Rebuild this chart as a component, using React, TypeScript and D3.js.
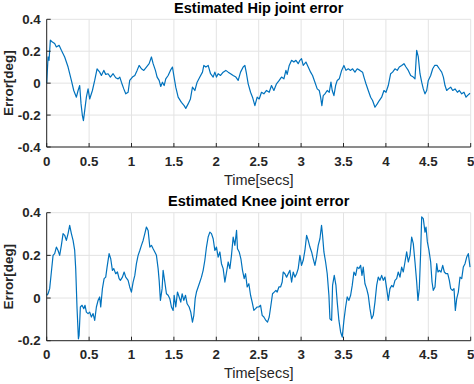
import React from "react";
import * as d3 from "d3";

const xTicks = [0, 0.5, 1, 1.5, 2, 2.5, 3, 3.5, 4, 4.5, 5];
const hipYTicks = [-0.4, -0.2, 0, 0.2, 0.4];
const kneeYTicks = [-0.2, 0, 0.2, 0.4];
const titles = ["Estimated Hip joint error", "Estimated Knee joint error"];
const xLabel = "Time[secs]";
const yLabel = "Error[deg]";

const hipSamples: [number, number][] = [
  [0, 0], [0.016, 0.164], [0.028, 0.143], [0.043, 0.269], [0.067, 0.258], [0.094, 0.248],
  [0.114, 0.227], [0.146, 0.237], [0.173, 0.206], [0.212, 0.164], [0.252, 0.101], [0.291, 0.017],
  [0.319, -0.046], [0.35, -0.088], [0.37, -0.046], [0.389, -0.015], [0.405, -0.13], [0.421, -0.204],
  [0.433, -0.235], [0.448, -0.172], [0.468, -0.088], [0.488, -0.036], [0.507, -0.099], [0.539, -0.046],
  [0.566, 0.017], [0.594, 0.09], [0.625, 0.069], [0.645, 0.048], [0.673, 0.08], [0.696, 0.055],
  [0.724, 0.059], [0.751, 0.038], [0.783, 0.059], [0.814, 0.034], [0.842, 0.027], [0.862, 0.038],
  [0.881, 0.006], [0.909, -0.036], [0.932, -0.067], [0.96, -0.057], [0.979, 0.017], [1.011, 0.038],
  [1.039, 0.048], [1.066, 0.08], [1.09, 0.111], [1.117, 0.09], [1.145, 0.08], [1.176, 0.101],
  [1.208, 0.122], [1.235, 0.164], [1.255, 0.122], [1.282, 0.08], [1.302, 0.038], [1.326, 0.017],
  [1.345, -0.021], [1.365, 0.006], [1.385, -0.015], [1.404, 0.027], [1.432, 0.048], [1.459, 0.08],
  [1.483, 0.101], [1.499, 0.048], [1.522, -0.025], [1.55, -0.088], [1.589, -0.12], [1.621, -0.141],
  [1.64, -0.158], [1.668, -0.13], [1.695, -0.099], [1.719, -0.025], [1.747, -0.046], [1.774, 0.006],
  [1.806, 0.038], [1.837, 0.069], [1.853, 0.111], [1.877, 0.101], [1.904, 0.111], [1.932, 0.059],
  [1.963, 0.038], [1.983, 0.069], [2.002, 0.038], [2.022, 0.059], [2.05, 0.048], [2.081, 0.069],
  [2.112, 0.08], [2.14, 0.069], [2.168, 0.059], [2.199, 0.048], [2.231, 0.038], [2.258, 0.017],
  [2.286, 0.069], [2.317, 0.101], [2.337, 0.111], [2.356, 0.059], [2.376, -0.004], [2.404, -0.057],
  [2.427, -0.088], [2.455, -0.141], [2.482, -0.088], [2.506, -0.099], [2.533, -0.057], [2.561, -0.067],
  [2.592, -0.046], [2.624, -0.057], [2.651, -0.015], [2.679, -0.046], [2.71, -0.004], [2.742, 0.017],
  [2.769, 0.038], [2.797, 0.027], [2.821, 0.08], [2.836, 0.055], [2.86, 0.111], [2.888, 0.143],
  [2.915, 0.132], [2.939, 0.143], [2.966, 0.122], [2.986, 0.143], [3.005, 0.153], [3.025, 0.111],
  [3.057, 0.132], [3.084, 0.101], [3.112, 0.069], [3.135, 0.048], [3.163, 0.006], [3.19, -0.036],
  [3.214, -0.046], [3.23, -0.088], [3.245, -0.141], [3.261, -0.078], [3.281, -0.067], [3.308, -0.046],
  [3.332, -0.057], [3.352, 0.006], [3.367, -0.046], [3.387, -0.078], [3.407, -0.015], [3.426, 0.017],
  [3.45, 0.027], [3.478, 0.08], [3.505, 0.111], [3.529, 0.08], [3.556, 0.09], [3.584, 0.08],
  [3.607, 0.09], [3.635, 0.069], [3.662, 0.09], [3.694, 0.08], [3.725, 0.069], [3.741, 0.038],
  [3.765, -0.004], [3.792, -0.046], [3.82, -0.088], [3.843, -0.109], [3.871, -0.151], [3.898, -0.13],
  [3.922, -0.109], [3.95, -0.088], [3.977, -0.046], [4.001, -0.057], [4.028, -0.015], [4.056, 0.059],
  [4.079, 0.069], [4.107, 0.09], [4.134, 0.08], [4.158, 0.101], [4.186, 0.111], [4.213, 0.122],
  [4.237, 0.101], [4.264, 0.08], [4.292, 0.048], [4.323, 0.038], [4.343, 0.027], [4.363, 0.206],
  [4.382, 0.164], [4.402, 0.059], [4.422, 0.006], [4.441, -0.036], [4.461, -0.067], [4.481, -0.046],
  [4.5, 0.017], [4.528, 0.048], [4.552, 0.09], [4.575, 0.111], [4.603, 0.111], [4.63, 0.09],
  [4.658, 0.069], [4.678, 0.038], [4.697, -0.015], [4.717, -0.046], [4.736, -0.036], [4.764, -0.025],
  [4.788, -0.046], [4.815, -0.036], [4.843, -0.057], [4.866, -0.046], [4.894, -0.067], [4.921, -0.057],
  [4.945, -0.088], [4.961, -0.078], [4.992, -0.063],
];

const kneeSamples: [number, number][] = [
  [0, 0.013], [0.016, 0.02], [0.035, 0.044], [0.055, 0.122], [0.075, 0.2], [0.094, 0.208],
  [0.114, 0.239], [0.134, 0.223], [0.153, 0.2], [0.173, 0.247], [0.193, 0.302], [0.212, 0.294],
  [0.232, 0.27], [0.252, 0.302], [0.271, 0.341], [0.291, 0.302], [0.311, 0.27], [0.33, 0.223],
  [0.342, 0.138], [0.358, -0.05], [0.374, -0.191], [0.382, -0.175], [0.397, -0.042], [0.417, -0.034],
  [0.437, -0.05], [0.452, -0.034], [0.468, -0.066], [0.488, -0.073], [0.507, -0.066], [0.527, -0.089],
  [0.547, -0.073], [0.566, -0.105], [0.586, -0.042], [0.606, -0.011], [0.625, 0.005], [0.637, -0.042],
  [0.657, 0.044], [0.677, 0.091], [0.696, 0.098], [0.712, 0.145], [0.736, 0.208], [0.755, 0.184],
  [0.775, 0.13], [0.791, 0.138], [0.814, 0.114], [0.834, 0.122], [0.854, 0.091], [0.869, 0.083],
  [0.893, 0.098], [0.913, 0.122], [0.932, 0.098], [0.96, 0.083], [0.979, 0.052], [0.999, 0.028],
  [1.019, 0.075], [1.039, 0.106], [1.058, 0.161], [1.078, 0.2], [1.098, 0.223], [1.117, 0.247],
  [1.137, 0.27], [1.157, 0.302], [1.176, 0.333], [1.196, 0.317], [1.216, 0.239], [1.235, 0.247],
  [1.255, 0.231], [1.275, 0.216], [1.294, 0.2], [1.314, 0.138], [1.326, 0.083], [1.341, -0.011],
  [1.361, 0.044], [1.373, 0.13], [1.393, 0.075], [1.412, 0.02], [1.432, 0.013], [1.452, -0.003],
  [1.471, -0.042], [1.491, -0.058], [1.503, 0.013], [1.522, -0.042], [1.542, 0.028], [1.562, 0.005],
  [1.581, -0.019], [1.597, 0.02], [1.617, -0.011], [1.637, 0.013], [1.656, -0.027], [1.68, -0.042],
  [1.699, -0.066], [1.719, -0.113], [1.735, -0.081], [1.751, -0.003], [1.766, 0.028], [1.786, 0.052],
  [1.806, 0.075], [1.825, 0.098], [1.845, 0.13], [1.865, 0.177], [1.884, 0.239], [1.904, 0.286],
  [1.924, 0.309], [1.943, 0.302], [1.963, 0.278], [1.983, 0.223], [2.002, 0.239], [2.022, 0.192],
  [2.042, 0.216], [2.061, 0.161], [2.081, 0.138], [2.101, 0.075], [2.121, 0.122], [2.14, 0.169],
  [2.16, 0.138], [2.179, 0.2], [2.199, 0.286], [2.219, 0.247], [2.239, 0.317], [2.25, 0.231],
  [2.27, 0.216], [2.29, 0.184], [2.309, 0.13], [2.329, 0.091], [2.345, 0.114], [2.364, 0.052],
  [2.384, 0.067], [2.404, 0.013], [2.423, -0.019], [2.443, -0.058], [2.463, -0.05], [2.482, -0.042],
  [2.502, -0.042], [2.522, -0.034], [2.541, -0.081], [2.561, -0.089], [2.585, -0.105], [2.604, -0.113],
  [2.624, -0.089], [2.644, -0.034], [2.663, 0.02], [2.683, 0.028], [2.703, 0.036], [2.718, 0.028],
  [2.738, 0.052], [2.758, 0.052], [2.777, 0.075], [2.789, 0.122], [2.809, 0.114], [2.829, 0.098],
  [2.848, 0.114], [2.868, 0.13], [2.888, 0.075], [2.907, 0.122], [2.927, 0.098], [2.947, 0.114],
  [2.966, 0.138], [2.986, 0.2], [3.005, 0.153], [3.025, 0.177], [3.045, 0.223], [3.065, 0.294],
  [3.084, 0.27], [3.104, 0.239], [3.124, 0.216], [3.143, 0.184], [3.163, 0.153], [3.182, 0.192],
  [3.202, 0.247], [3.222, 0.278], [3.241, 0.341], [3.253, 0.294], [3.269, 0.216], [3.289, 0.169],
  [3.308, 0.114], [3.328, 0.013], [3.34, -0.097], [3.36, -0.105], [3.371, 0.059], [3.391, 0.106],
  [3.411, 0.059], [3.426, -0.019], [3.446, -0.105], [3.466, -0.159], [3.485, -0.183], [3.505, -0.105],
  [3.525, -0.042], [3.544, 0.005], [3.564, -0.011], [3.584, 0.013], [3.603, 0.059], [3.623, 0.122],
  [3.643, 0.106], [3.662, 0.145], [3.682, 0.138], [3.702, 0.153], [3.718, 0.106], [3.733, 0.145],
  [3.753, 0.067], [3.773, 0.044], [3.792, 0.013], [3.812, -0.05], [3.832, -0.097], [3.851, -0.081],
  [3.871, -0.019], [3.891, 0.059], [3.91, 0.098], [3.93, 0.083], [3.95, 0.106], [3.969, 0.083],
  [3.989, 0.098], [4.009, 0.044], [4.028, -0.011], [4.048, 0.044], [4.068, 0.059], [4.087, 0.052],
  [4.107, 0.083], [4.127, 0.091], [4.146, 0.122], [4.166, 0.098], [4.186, 0.145], [4.205, 0.122],
  [4.225, 0.169], [4.245, 0.216], [4.264, 0.169], [4.284, 0.2], [4.304, 0.286], [4.323, 0.255],
  [4.343, 0.169], [4.363, 0.075], [4.378, -0.011], [4.394, 0.044], [4.41, 0.216], [4.422, 0.38],
  [4.441, 0.372], [4.461, 0.309], [4.473, 0.333], [4.489, 0.263], [4.508, 0.223], [4.528, 0.169],
  [4.544, 0.075], [4.559, 0.036], [4.579, 0.052], [4.599, 0.161], [4.614, 0.122], [4.63, 0.13],
  [4.65, 0.122], [4.67, 0.153], [4.689, 0.122], [4.709, 0.114], [4.729, 0.114], [4.748, 0.083],
  [4.764, 0.044], [4.784, 0.036], [4.803, 0.044], [4.819, -0.058], [4.835, -0.003], [4.854, 0.028],
  [4.874, 0.098], [4.894, 0.091], [4.913, 0.145], [4.933, 0.161], [4.953, 0.192], [4.972, 0.208],
  [4.992, 0.145],
];

const FONT = "'Liberation Sans', Arial, Helvetica, sans-serif";
const LINE_COLOR = "#0072BD";
const AXIS_COLOR = "#262626";
const GRID_COLOR = "#e3e3e3";

interface PanelProps {
  top: number;
  bottom: number;
  title: string;
  titleY: number;
  yDomain: [number, number];
  yTicks: number[];
  data: [number, number][];
  tickLabelY: number;
  xLabelY: number;
}

const LEFT = 46.7;
const RIGHT = 470.7;

function Panel({ top, bottom, title, titleY, yDomain, yTicks, data, tickLabelY, xLabelY }: PanelProps) {
  const x = d3.scaleLinear().domain([0, 5]).range([LEFT, RIGHT]);
  const y = d3.scaleLinear().domain(yDomain).range([bottom, top]);
  const line = d3
    .line<[number, number]>()
    .x((d) => x(d[0]))
    .y((d) => y(d[1]));
  const fmt = (v: number) => (Math.abs(v) < 1e-9 ? "0" : String(+v.toFixed(2)));
  const midY = (top + bottom) / 2;
  return (
    <g>
      {xTicks.map((t) => (
        <line key={"gx" + t} x1={x(t)} x2={x(t)} y1={top} y2={bottom} stroke={GRID_COLOR} strokeWidth={1} />
      ))}
      {yTicks.map((t) => (
        <line key={"gy" + t} x1={LEFT} x2={RIGHT} y1={y(t)} y2={y(t)} stroke={GRID_COLOR} strokeWidth={1} />
      ))}
      <path d={line(data) || ""} fill="none" stroke={LINE_COLOR} strokeWidth={1.2} strokeLinejoin="round" />
      <line x1={LEFT} x2={RIGHT} y1={bottom} y2={bottom} stroke={AXIS_COLOR} strokeWidth={1} />
      <line x1={LEFT} x2={LEFT} y1={top} y2={bottom} stroke={AXIS_COLOR} strokeWidth={1} />
      {xTicks.map((t) => (
        <line key={"tx" + t} x1={x(t)} x2={x(t)} y1={bottom} y2={bottom - 4} stroke={AXIS_COLOR} strokeWidth={1} />
      ))}
      {yTicks.map((t) => (
        <line key={"ty" + t} x1={LEFT} x2={LEFT + 4} y1={y(t)} y2={y(t)} stroke={AXIS_COLOR} strokeWidth={1} />
      ))}
      {xTicks.map((t) => (
        <text
          key={"lx" + t}
          x={x(t)}
          y={tickLabelY}
          textAnchor="middle"
          fontFamily={FONT}
          fontWeight="bold"
          fontSize={13.3}
          fill={AXIS_COLOR}
        >
          {fmt(t)}
        </text>
      ))}
      {yTicks.map((t) => (
        <text
          key={"ly" + t}
          x={LEFT - 6}
          y={y(t) + 4.6}
          textAnchor="end"
          fontFamily={FONT}
          fontWeight="bold"
          fontSize={13.3}
          fill={AXIS_COLOR}
        >
          {fmt(t)}
        </text>
      ))}
      <text
        x={(LEFT + RIGHT) / 2}
        y={xLabelY}
        textAnchor="middle"
        fontFamily={FONT}
        fontSize={14.5}
        fill={AXIS_COLOR}
      >
        {xLabel}
      </text>
      <text
        transform={`translate(12.5,${midY}) rotate(-90)`}
        textAnchor="middle"
        fontFamily={FONT}
        fontWeight="bold"
        fontSize={13.4}
        fill={AXIS_COLOR}
      >
        {yLabel}
      </text>
      <text
        x={(LEFT + RIGHT) / 2}
        y={titleY}
        textAnchor="middle"
        fontFamily={FONT}
        fontWeight="bold"
        fontSize={14.5}
        fill="#000"
      >
        {title}
      </text>
    </g>
  );
}

export default function App() {
  return (
    <svg
      width={474}
      height={384}
      viewBox="0 0 474 384"
      style={{ position: "absolute", left: 0, top: 0, background: "#fff" }}
    >
      <rect x={0} y={0} width={474} height={384} fill="#fff" />
      <Panel
        top={19.3}
        bottom={147}
        title={titles[0]}
        titleY={12.5}
        yDomain={[-0.4, 0.4]}
        yTicks={hipYTicks}
        data={hipSamples}
        tickLabelY={165.5}
        xLabelY={184.5}
      />
      <Panel
        top={212.7}
        bottom={340.7}
        title={titles[1]}
        titleY={206}
        yDomain={[-0.2, 0.4]}
        yTicks={kneeYTicks}
        data={kneeSamples}
        tickLabelY={359}
        xLabelY={378}
      />
    </svg>
  );
}
